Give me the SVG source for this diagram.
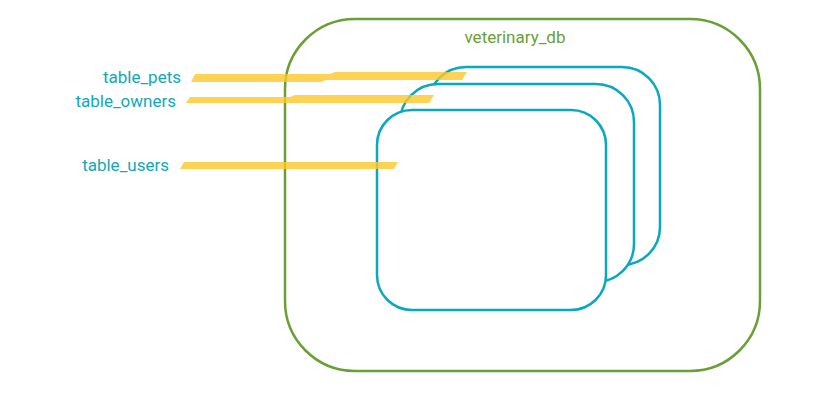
<svg xmlns="http://www.w3.org/2000/svg" width="826" height="405" viewBox="0 0 826 405">
<style>
.card{fill:#fff;stroke:#0aa8bf;stroke-width:2.5}
.lbl{font-family:Roboto,"Liberation Sans",sans-serif;font-size:17px;fill:#12a7b8;text-anchor:end}
.hl{fill:#fcc82a;opacity:0.8}
</style>
<rect width="826" height="405" fill="#fff"/>
<g id="veterinary_db">
<rect x="285" y="19" width="475" height="352" rx="70" fill="#fff" stroke="#6a9f35" stroke-width="2.5"/>
<text x="515" y="43" font-family="Roboto,'Liberation Sans',sans-serif" font-size="17" fill="#6a9f35" text-anchor="middle">veterinary_db</text>
</g>
<g id="card_pets"><rect class="card" x="428" y="67" width="232" height="198" rx="38"/></g>
<g id="card_owners"><rect class="card" x="400" y="84" width="234" height="198" rx="38"/></g>
<g id="card_users"><rect class="card" x="377" y="110" width="229" height="200" rx="35"/></g>
<g id="labels">
<text class="lbl" x="181" y="83">table_pets</text>
<text class="lbl" x="176" y="107">table_owners</text>
<text class="lbl" x="169" y="171">table_users</text>
</g>
<g id="connectors">
<polygon class="hl" points="195,74 330,74 335,72 467,72 462,80 326,80 321,82 191,82"/>
<polygon class="hl" points="190,97 290,97 295,95 434,95 429,103 186,103"/>
<polygon class="hl" points="184,162 398,162 394,169 180,169"/>
</g>
</svg>
